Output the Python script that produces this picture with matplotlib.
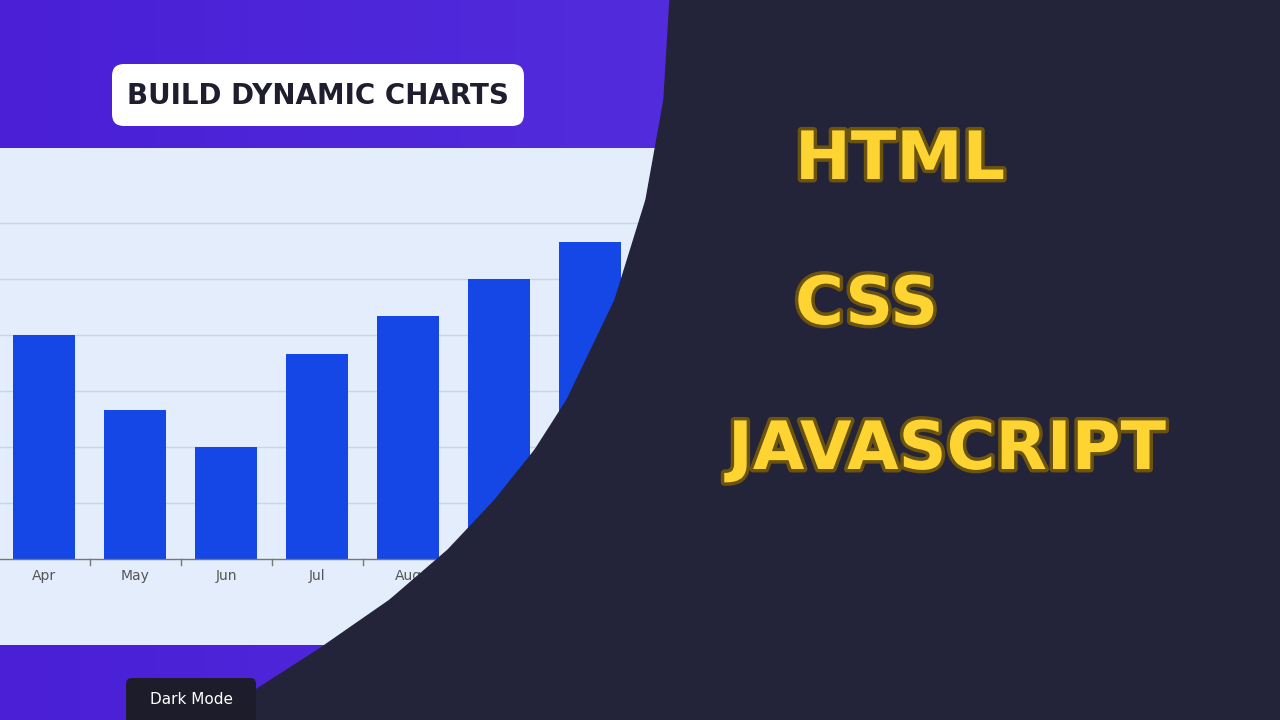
import matplotlib
matplotlib.use("Agg")
import matplotlib.pyplot as plt
import numpy as np
from matplotlib.patches import Polygon, FancyBboxPatch
import matplotlib.patheffects as pe
from matplotlib.colors import LinearSegmentedColormap

months = ["Apr","May","Jun","Jul","Aug","Sep","Oct"]
values = [60, 40, 30, 55, 65, 75, 85]
grid_vals = [15, 30, 45, 60, 75, 90]

fig = plt.figure(figsize=(12.8, 7.2), dpi=100)
W, H = 1280, 720
def ax_px(x0, y0, x1, y1, **kw):
    return fig.add_axes([x0/W, 1-y1/H, (x1-x0)/W, (y1-y0)/H], **kw)

bg = ax_px(0, 0, 1280, 720)
grad = np.linspace(0, 1, 256)[None, :]
cm = LinearSegmentedColormap.from_list("g", ["#4a1fd6", "#5a38e2"])
bg.imshow(grad, cmap=cm, aspect="auto", extent=[0, 1280, 720, 0])
bg.set_xlim(0, 1280); bg.set_ylim(720, 0); bg.axis("off")

ax = ax_px(0, 148, 660, 645)
ax.set_facecolor("#e3edfb")
ax.set_xlim(-44/91, 616/91)
ax.set_ylim(-(645-559)/56*15, (559-148)/56*15)
for g in grid_vals:
    ax.axhline(g, color="#c9d4e4", lw=1, zorder=1)
ax.axhline(0, color="#777777", lw=1, zorder=3)
x = np.arange(len(months))
ax.bar(x, values, width=0.69, color="#1447e6", zorder=2)
for i in range(len(months)+1):
    ax.plot([i-0.5, i-0.5], [0, -1.6], color="#777777", lw=1, zorder=3)
for i, m in enumerate(months):
    ax.text(i, -4.5, m, ha="center", va="center", fontsize=10, color="#555555")
for s in ax.spines.values():
    s.set_visible(False)
ax.set_xticks([]); ax.set_yticks([])

ov = ax_px(0, 0, 1280, 720)
ov.set_xlim(0, 1280); ov.set_ylim(720, 0); ov.axis("off")
ov.patch.set_alpha(0)
curve_y = np.array([0, 100, 200, 300, 400, 450, 500, 550, 600, 650, 700, 720])
curve_x = np.array([670, 664, 646, 615, 567, 535, 495, 448, 390, 318, 240, 205])
ys = np.linspace(0, 720, 200)
xs = np.interp(ys, curve_y, curve_x)
pts = [(1280, 0)] + list(zip(xs, ys)) + [(1280, 720)]
ov.add_patch(Polygon(pts, closed=True, color="#23233a", zorder=5))

ov.add_patch(FancyBboxPatch((112, 64), 412, 62, boxstyle="round,pad=0,rounding_size=12",
                            fc="white", ec="none", zorder=6))
ov.text(318, 96, "BUILD DYNAMIC CHARTS", ha="center", va="center", fontsize=20,
        fontweight="heavy", color="#1e1e2e", zorder=7)

ov.add_patch(FancyBboxPatch((126, 678), 130, 50, boxstyle="round,pad=0,rounding_size=6",
                            fc="#1c1c2b", ec="none", zorder=6))
ov.text(191, 699, "Dark Mode", ha="center", va="center", fontsize=11,
        color="white", zorder=7)

eff = [pe.withStroke(linewidth=5, foreground="#6b5310")]
for txt, xx, yy in [("HTML", 795, 160), ("CSS", 795, 305), ("JAVASCRIPT", 728, 450)]:
    ov.text(xx, yy, txt, ha="left", va="center", fontsize=48, fontweight="heavy",
            color="#fdd431", path_effects=eff, zorder=7)

fig.savefig("out.png", dpi=100)
